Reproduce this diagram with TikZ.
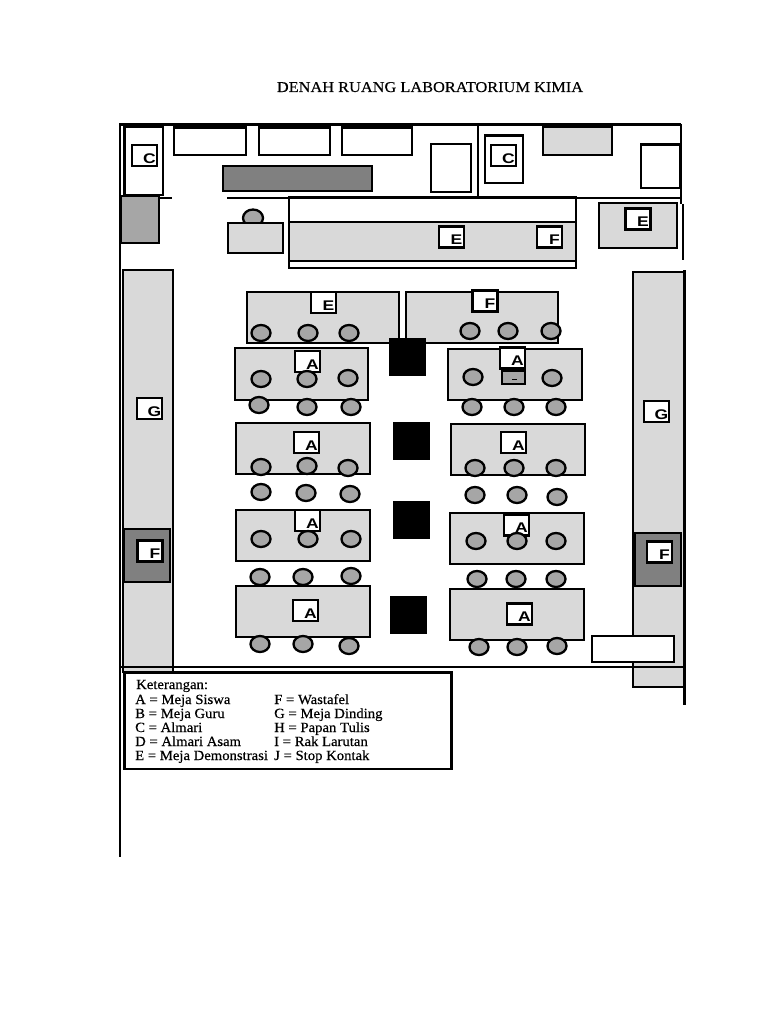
\documentclass[tikz,border=0pt]{standalone}
\usepackage{fontspec}
\setmainfont{Liberation Serif}
\newfontfamily\tagfont[FakeStretch=1.25]{Liberation Sans}
\newfontfamily\titlefont[FakeStretch=1.09, FakeBold=0.3]{Liberation Serif}
\newfontfamily\legendfont[FakeStretch=1.05, FakeBold=0.5]{Liberation Serif}
\tikzset{
    wall/.style={line width=2.8pt},
    thinbox/.style={draw, line width=2.6pt, fill=white},
    desk/.style={draw, line width=2.3pt, fill=black!15},
    darkbox/.style={draw, line width=2.8pt, fill=black!50},
    midbox/.style={draw, line width=2.6pt, fill=black!35},
    chair/.style={draw, line width=2.3pt, fill=black!35},
    tag/.style={draw, line width=2.4pt, fill=white, minimum width=25pt, minimum height=21pt, inner sep=0pt,
        label={[xshift=5pt, yshift=-3pt, font=\tagfont\bfseries\fontsize{14}{14}\selectfont]center:#1}},
    legendtext/.style={anchor=base west, inner sep=0pt, font=\legendfont\fontsize{14}{14}\selectfont},
}
\begin{document}
\begin{tikzpicture}[x=1pt, y=-1pt]
    \useasboundingbox (0,0) rectangle (768,1024);
    \node[anchor=base, inner sep=0pt, font=\titlefont\fontsize{15}{15}\selectfont] (title) at (430,92) {DENAH RUANG LABORATORIUM KIMIA};

    % side benches
    \draw[desk] (123,270) rectangle (173,672);
    \draw[desk] (633,272) rectangle (684,687);

    % walls
    \draw[wall] (119,124.5) -- (681,124.5);
    \draw[wall] (120,124) -- (120,857);
    \draw[wall] (681,124) -- (681,204);
    \draw[line width=1.2pt] (683,204) -- (683,260);
    \draw[wall] (684.5,270) -- (684.5,705);
    \draw[wall] (120,667) -- (684,667);
    \draw[wall] (120,198) -- (172,198);
    \draw[wall] (227,198) -- (681,198);
    \draw[wall] (478,124) -- (478,198);

    % top row
    \draw[thinbox] (124.5,127) rectangle (163,195);
    \draw[thinbox] (174,127.5) rectangle (246,155);
    \draw[thinbox] (259,127.5) rectangle (330,155);
    \draw[thinbox] (342,127.5) rectangle (412,155);
    \draw[darkbox] (223,166) rectangle (372,191);
    \draw[midbox] (120.5,196) rectangle (159,243);
    \draw[thinbox] (431,144) rectangle (471,192);
    \draw[thinbox] (485,135.5) rectangle (523,183);
    \draw[thinbox, fill=black!15] (543,127) rectangle (612,155);
    \draw[thinbox] (641,144.5) rectangle (680,188);
    \draw[desk] (599,203) rectangle (677,248);
    \node[tag=C] (tagC1) at (144.5,155.5) {};
    \node[tag=C] (tagC2) at (503.5,155.5) {};
    \node[tag=E] (tagE1) at (638,219) {};

    % teacher
    \draw[chair] (253,218) circle [x radius=10, y radius=8.5];
    \draw[desk] (228,223) rectangle (283,253);

    % demonstration bench
    \draw[thinbox] (289,197.5) rectangle (576,268);
    \draw[desk, line width=1.6pt] (289,222) rectangle (576,261);
    \draw[wall] (289,197.5) rectangle (576,268);
    \node[tag=E] (tagE2) at (451.5,237) {};
    \node[tag=F] (tagF1) at (549.5,237) {};

    % front tables
    \draw[desk] (247,292) rectangle (399,343);
    \draw[desk] (406,292) rectangle (558,343);
    \node[tag=E] (tagE3) at (323.5,302.5) {};
    \node[tag=F] (tagF2) at (485,301) {};

    % student tables
    \foreach \xa/\ya/\xb/\yb in {235/348/368/400, 236/423/370/474, 236/510/370/561, 236/586/370/637,
        448/349/582/400, 451/424/585/475, 450/513/584/564, 450/589/584/640}
        \draw[desk] (\xa,\ya) rectangle (\xb,\yb);
    \node[tag=A] (tagA1) at (307.5,361.5) {};
    \node[tag=A] (tagA2) at (306.5,442.5) {};
    \node[tag=A] (tagA3) at (307.5,520.5) {};
    \node[tag=A] (tagA4) at (305.5,610.5) {};
    \node[tag=A] (tagA5) at (512.5,358) {};
    \node[tag=A] (tagA6) at (513.5,442.5) {};
    \node[tag=A] (tagA7) at (516.5,525) {};
    \node[tag=A] (tagA8) at (519.5,614) {};
    \draw[midbox] (502,371) rectangle (525,384);
    \draw[line width=.7pt] (512,379) -- (517,379);

    % chairs
    \foreach \x/\y in {261/333, 308/333, 349/333, 470/331, 508/331, 551/331,
        261/379, 307/379, 348/378, 259/405, 307/407, 351/407,
        261/467, 307/466, 348/468, 261/492, 306/493, 350/494,
        261/539, 308/539, 351/539, 260/577, 303/577, 351/576,
        260/644, 303/644, 349/646,
        473/377, 552/378, 472/407, 514/407, 556/407,
        475/468, 514/468, 556/468, 475/495, 517/495, 557/497,
        476/541, 517/541, 556/541, 477/579, 516/579, 556/579,
        479/647, 517/647, 557/646}
        \draw[chair] (\x,\y) circle [x radius=9.5, y radius=8];

    % black squares
    \foreach \xa/\ya in {389/338, 393/422, 393/501, 390/596}
        \fill (\xa,\ya) rectangle ++(37,38);

    % side bench tags and sinks
    \node[tag=G] (tagG1) at (149.5,408.5) {};
    \node[tag=G] (tagG2) at (656.5,411.5) {};
    \draw[darkbox] (124,529) rectangle (170,582);
    \draw[darkbox] (634.5,533) rectangle (681,586);
    \node[tag=F] (tagF3) at (150,551) {};
    \node[tag=F] (tagF4) at (659.5,552) {};
    \draw[thinbox] (592,636) rectangle (674,662);

    % legend
    \draw[thinbox] (124.5,672.5) rectangle (451.5,769);
    \node[legendtext] (legendhead) at (136,689) {Keterangan:};
    \node[legendtext] (legendA) at (135,704) {A = Meja Siswa};
    \node[legendtext] (legendB) at (135,718) {B = Meja Guru};
    \node[legendtext] (legendC) at (135,732) {C = Almari};
    \node[legendtext] (legendD) at (135,746) {D = Almari Asam};
    \node[legendtext] (legendE) at (135,760) {E = Meja Demonstrasi};
    \node[legendtext] (legendF) at (274,704) {F = Wastafel};
    \node[legendtext] (legendG) at (274,718) {G = Meja Dinding};
    \node[legendtext] (legendH) at (274,732) {H = Papan Tulis};
    \node[legendtext] (legendI) at (274,746) {I = Rak Larutan};
    \node[legendtext] (legendJ) at (274,760) {J = Stop Kontak};
\end{tikzpicture}
\end{document}
